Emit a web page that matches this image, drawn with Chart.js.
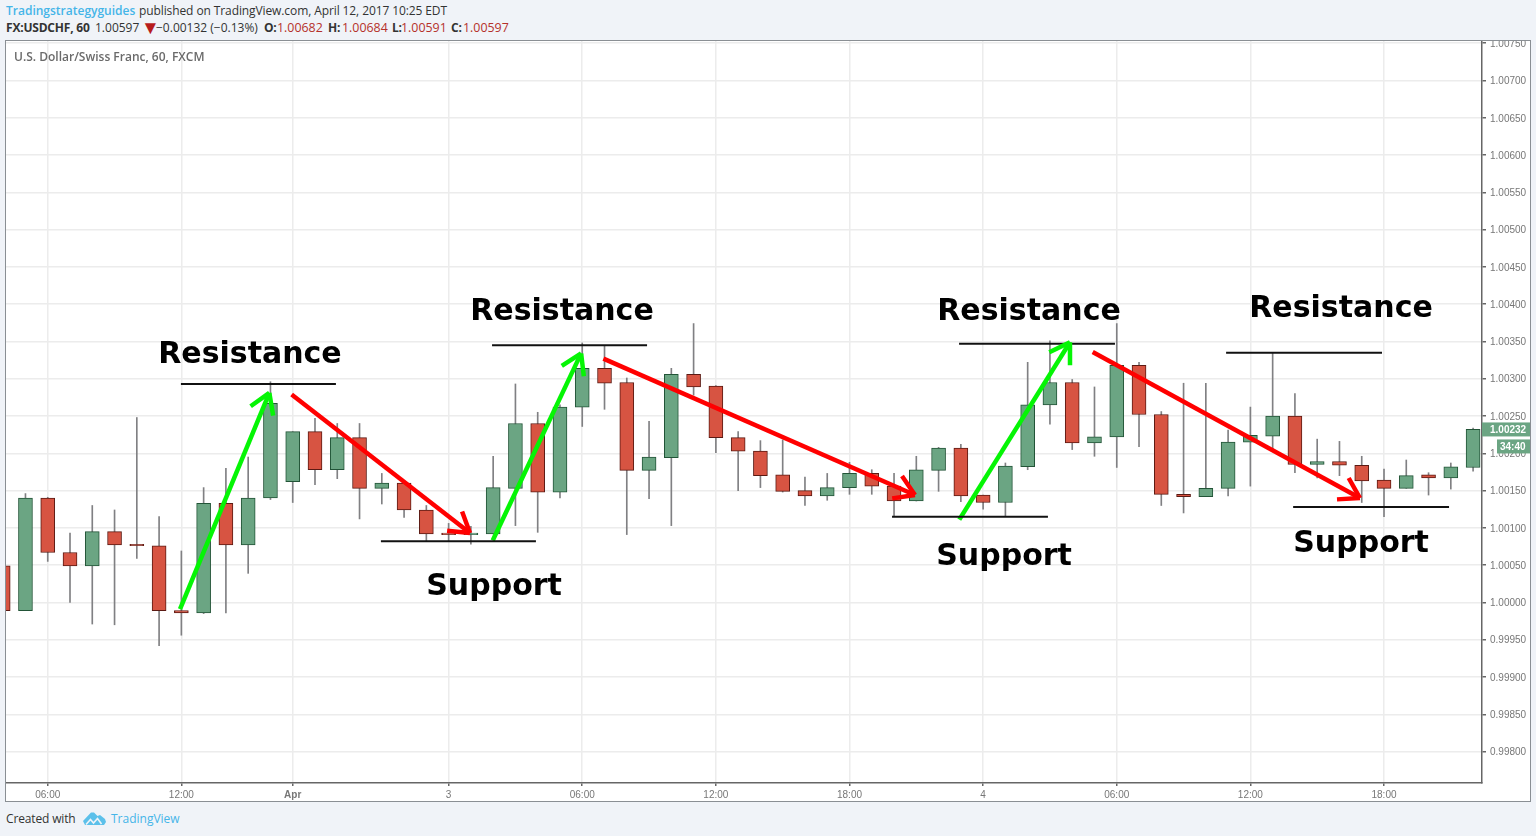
<!DOCTYPE html>
<html>
<head>
<meta charset="utf-8">
<title>USDCHF 60</title>
<script src="https://cdn.jsdelivr.net/npm/chart.js@4"></script>
<style>
    html, body { margin: 0; padding: 0; width: 1536px; height: 836px; overflow: hidden; background: #f0f3f8; }
    body { font-family: "Open Sans", sans-serif; color: #333; position: relative; }
    .linha { position: absolute; left: 6px; white-space: nowrap; font-size: 12px; line-height: 16px; }
    .linha span { position: absolute; top: 0; }
    #linha1 { top: 3px; letter-spacing: -0.1px; }
    #linha2 { top: 20px; left: 0; }
    .azul { color: #45b5e8; font-weight: 600; letter-spacing: 0; }
    .vermelho { color: #b5312a; font-size: 12.4px; }
    .forte { font-weight: 700; letter-spacing: -0.2px; }
    #quadro { position: absolute; left: 6px; top: 41px; width: 1524px; height: 760px; background: #fff; outline: 1px solid #8a8f94; }
    #quadro canvas { display: block; }
    #simbolo { position: absolute; left: 8px; top: 8px; font-size: 12px; font-weight: 600; line-height: 16px; color: #6a6a6a; }
    #rodape { position: absolute; left: 6px; top: 811px; font-size: 12px; line-height: 16px; white-space: nowrap; letter-spacing: -0.15px; }
    #logo { position: absolute; left: 83px; top: 811px; }
    #marca { position: absolute; left: 111px; top: 811px; font-size: 12px; line-height: 16px; color: #45b5e8; }
</style>
</head>
<body>
<div class="linha" id="linha1"><span class="azul" style="left:0">Tradingstrategyguides</span><span style="left:133px">published on TradingView.com, April 12, 2017 10:25 EDT</span></div>
<div class="linha" id="linha2">
    <span class="forte" style="left:6px">FX:USDCHF, 60</span>
    <span style="left:95px">1.00597</span>
    <span style="left:141px;top:-2px;color:#b71c1c;font-size:19px;line-height:19px">▼</span>
    <span style="left:156px">−0.00132 (−0.13%)</span>
    <span class="forte" style="left:264px">O:</span><span class="vermelho" style="left:277px">1.00682</span>
    <span class="forte" style="left:328px">H:</span><span class="vermelho" style="left:342px">1.00684</span>
    <span class="forte" style="left:392px">L:</span><span class="vermelho" style="left:401px">1.00591</span>
    <span class="forte" style="left:451px">C:</span><span class="vermelho" style="left:463px">1.00597</span>
</div>
<div id="quadro">
    <canvas id="grafico" width="1524" height="760"></canvas>
    <div id="simbolo">U.S. Dollar/Swiss Franc, 60, FXCM</div>
</div>
<div id="rodape">Created with</div>
<svg id="logo" width="23" height="15" viewBox="0 0 23 15">
    <path d="M0 10 L8 1.5 L11 1.5 L14.5 5 L17 4 L22 8 L23 11 L21 14 L2 14 Z" fill="#5cc0ea"/>
    <path d="M3 13.5 L7.5 8.5 L10.5 12 L14.5 7.5 L18.5 13" fill="none" stroke="#f0f3f8" stroke-width="1.6"/>
</svg>
<div id="marca">TradingView</div>

<script>
// Candles, one per hour, oldest first
const aberturas = [1.00049, 0.99989, 1.00140, 1.00067, 1.00049, 1.00095, 1.00078, 1.00076, 0.99989, 0.99986,
    1.00133, 1.00077, 1.00140, 1.00162, 1.00229, 1.00178, 1.00221, 1.00153, 1.00160, 1.00124,
    1.00093, 1.00091, 1.00092, 1.00153, 1.00240, 1.00148, 1.00262, 1.00314, 1.00295, 1.00177,
    1.00194, 1.00306, 1.00290, 1.00221, 1.00203, 1.00171, 1.00150, 1.00143, 1.00154, 1.00173,
    1.00156, 1.00136, 1.00177, 1.00207, 1.00144, 1.00134, 1.00182, 1.00265, 1.00295, 1.00214,
    1.00222, 1.00318, 1.00252, 1.00145, 1.00142, 1.00153, 1.00215, 1.00223, 1.00250, 1.00185,
    1.00189, 1.00184, 1.00164, 1.00153, 1.00171, 1.00167, 1.00181];
const maximas = [1.00049, 1.00146, 1.00141, 1.00093, 1.00130, 1.00124, 1.00248, 1.00115, 1.00069, 1.00154,
    1.00180, 1.00195, 1.00296, 1.00229, 1.00247, 1.00240, 1.00240, 1.00173, 1.00160, 1.00130,
    1.00106, 1.00102, 1.00196, 1.00293, 1.00255, 1.00265, 1.00348, 1.00344, 1.00301, 1.00243,
    1.00314, 1.00374, 1.00291, 1.00229, 1.00217, 1.00218, 1.00168, 1.00173, 1.00188, 1.00178,
    1.00173, 1.00196, 1.00208, 1.00212, 1.00144, 1.00187, 1.00322, 1.00351, 1.00299, 1.00289,
    1.00374, 1.00322, 1.00256, 1.00294, 1.00294, 1.00231, 1.00262, 1.00334, 1.00280, 1.00219,
    1.00216, 1.00196, 1.00179, 1.00191, 1.00174, 1.00187, 1.00234];
const minimas = [0.99989, 0.99989, 1.00055, 1.00000, 0.99971, 0.99970, 1.00059, 0.99942, 0.99956, 0.99985,
    0.99986, 1.00039, 1.00138, 1.00134, 1.00158, 1.00166, 1.00112, 1.00132, 1.00114, 1.00082,
    1.00082, 1.00078, 1.00092, 1.00103, 1.00094, 1.00140, 1.00236, 1.00259, 1.00091, 1.00139,
    1.00103, 1.00278, 1.00201, 1.00150, 1.00154, 1.00148, 1.00130, 1.00137, 1.00145, 1.00145,
    1.00115, 1.00136, 1.00149, 1.00135, 1.00125, 1.00115, 1.00178, 1.00239, 1.00205, 1.00196,
    1.00181, 1.00209, 1.00130, 1.00120, 1.00142, 1.00143, 1.00156, 1.00204, 1.00174, 1.00167,
    1.00170, 1.00134, 1.00115, 1.00153, 1.00144, 1.00152, 1.00176];
const fechamentos = [0.99989, 1.00140, 1.00067, 1.00049, 1.00095, 1.00077, 1.00076, 0.99989, 0.99986, 1.00133,
    1.00077, 1.00140, 1.00267, 1.00229, 1.00178, 1.00221, 1.00153, 1.00160, 1.00124, 1.00092,
    1.00091, 1.00093, 1.00154, 1.00240, 1.00148, 1.00262, 1.00314, 1.00294, 1.00177, 1.00195,
    1.00306, 1.00289, 1.00221, 1.00203, 1.00170, 1.00149, 1.00143, 1.00154, 1.00173, 1.00156,
    1.00136, 1.00178, 1.00207, 1.00143, 1.00134, 1.00183, 1.00265, 1.00295, 1.00214, 1.00222,
    1.00318, 1.00252, 1.00145, 1.00142, 1.00153, 1.00215, 1.00224, 1.00250, 1.00185, 1.00189,
    1.00184, 1.00163, 1.00153, 1.00170, 1.00167, 1.00182, 1.00232];

// Axis ticks
const ticksPreco = [0.998, 0.9985, 0.999, 0.9995, 1.0, 1.0005, 1.001, 1.0015, 1.002, 1.0025,
    1.003, 1.0035, 1.004, 1.0045, 1.005, 1.0055, 1.006, 1.0065, 1.007, 1.0075];
const ticksHora = [2, 8, 13, 20, 26, 32, 38, 44, 50, 56, 62];
const rotulosHora = ['06:00', '12:00', 'Apr', '3', '06:00', '12:00', '18:00', '4', '06:00', '12:00', '18:00'];
const contagem = '34:40';

// Hand drawn levels: [first candle, last candle, price]
const niveis = [[7.98, 14.94, 1.00293], [16.96, 23.92, 1.00082], [21.95, 28.91, 1.00345], [39.91, 46.91, 1.00115],
    [42.92, 49.92, 1.00347], [54.91, 61.91, 1.00335], [57.92, 64.92, 1.00128]];
// Hand drawn arrows: [candle, price, candle, price]
const setasVerdes = [[7.94, 0.99991, 11.95, 1.00281], [21.98, 1.00083, 25.95, 1.00334], [42.93, 1.00111, 47.9, 1.00349]];
const setasVermelhas = [[12.95, 1.00279, 20.96, 1.00093], [26.95, 1.00327, 40.94, 1.00144], [48.92, 1.00336, 60.92, 1.00140]];
// Level names: [text, candle, price]
const rotulos = [['Resistance', 11.08, 1.00332], ['Resistance', 25.09, 1.00389], ['Resistance', 46.06, 1.00389],
    ['Resistance', 60.07, 1.00393], ['Support', 22.04, 1.00021], ['Support', 44.94, 1.00060], ['Support', 60.97, 1.00078]];

const VERDE = '#6ba583';
const VERMELHO = '#d75442';
const COR_SETA_VERDE = '#05f505';
const indices = aberturas.map((_, i) => i);
const sobe = i => fechamentos[i] >= aberturas[i];

function segmento(x0, y0, x1, y1, cor, largura) {
    return {
        type: 'line',
        data: [{ x: x0, y: y0 }, { x: x1, y: y1 }],
        borderColor: cor,
        borderWidth: largura,
        pointRadius: 0,
        order: 0,
    };
}

// Arrow heads and level names go on top of the line datasets
const anotacoes = {
    id: 'anotacoes',
    afterDatasetsDraw(chart) {
        const { ctx, scales: { x, y } } = chart;
        const ponta = (s, cor) => {
            const px = x.getPixelForValue(s[2]), py = y.getPixelForValue(s[3]);
            const ang = Math.atan2(py - y.getPixelForValue(s[1]), px - x.getPixelForValue(s[0]));
            ctx.strokeStyle = cor;
            ctx.lineWidth = 4.5;
            ctx.beginPath();
            [-1, 1].forEach(lado => {
                const a = ang + Math.PI + lado * 32 * Math.PI / 180;
                ctx.moveTo(px, py);
                ctx.lineTo(px + 23 * Math.cos(a), py + 23 * Math.sin(a));
            });
            ctx.stroke();
        };
        ctx.save();
        setasVerdes.forEach(s => ponta(s, COR_SETA_VERDE));
        setasVermelhas.forEach(s => ponta(s, '#ff0000'));
        ctx.fillStyle = '#000';
        ctx.font = 'bold 30px "DejaVu Sans"';
        ctx.textAlign = 'center';
        ctx.textBaseline = 'middle';
        rotulos.forEach(r => ctx.fillText(r[0], x.getPixelForValue(r[1]), y.getPixelForValue(r[2])));
        ctx.restore();
    },
    // Last price and countdown tags sit over the axis labels
    afterDraw(chart) {
        const { ctx, scales: { y } } = chart;
        const ultimo = fechamentos[fechamentos.length - 1];
        const py = y.getPixelForValue(ultimo);
        const esq = y.left, dir = y.right;
        ctx.save();
        ctx.fillStyle = VERDE;
        ctx.fillRect(esq, py - 7, dir - esq, 14);
        ctx.fillRect(esq + 15, py + 10, dir - esq - 15, 14);
        ctx.fillStyle = '#fff';
        ctx.font = 'bold 10px "Liberation Sans"';
        ctx.textBaseline = 'middle';
        ctx.fillText(ultimo.toFixed(5), esq + 8, py + 0.5);
        ctx.fillText(contagem, esq + 18, py + 17.5);
        ctx.restore();
    },
};

new Chart(document.getElementById('grafico'), {
    type: 'bar',
    data: {
        datasets: [
            ...niveis.map(n => segmento(n[0], n[2], n[1], n[2], '#111', 2)),
            ...setasVerdes.map(s => segmento(s[0], s[1], s[2], s[3], COR_SETA_VERDE, 4.5)),
            ...setasVermelhas.map(s => segmento(s[0], s[1], s[2], s[3], '#ff0000', 4.5)),
            {
                // candle bodies
                data: indices.map(i => ({ x: i, y: [aberturas[i], fechamentos[i]] })),
                backgroundColor: indices.map(i => sobe(i) ? VERDE : VERMELHO),
                borderColor: indices.map(i => sobe(i) ? '#225437' : '#5b1a13'),
                borderWidth: 1,
                borderSkipped: false,
                barThickness: 14,
                grouped: false,
                order: 1,
            },
            {
                // wicks
                data: indices.map(i => ({ x: i, y: [minimas[i], maximas[i]] })),
                backgroundColor: '#808083',
                barThickness: 1,
                grouped: false,
                order: 2,
            },
        ],
    },
    options: {
        responsive: false,
        animation: false,
        events: [],
        layout: { padding: 0 },
        plugins: { legend: { display: false }, tooltip: { enabled: false } },
        scales: {
            x: {
                type: 'linear',
                min: 0.126,
                max: 66.4,
                offset: false,
                afterBuildTicks: s => { s.ticks = ticksHora.map(v => ({ value: v })); },
                // no extra room for the outer labels, the plot runs to the frame
                afterFit: s => { s.height = 18; s.paddingLeft = 0; s.paddingRight = 0; },
                grid: { offset: false, color: '#ececec', lineWidth: 1.5, tickColor: '#666', tickLength: 3 },
                border: { color: '#666', width: 1.5 },
                ticks: {
                    autoSkip: false,
                    maxRotation: 0,
                    padding: 3,
                    color: '#777',
                    font: c => ({ family: '"Liberation Sans"', size: 10, weight: rotulosHora[c.index] === 'Apr' ? 'bold' : 'normal' }),
                    callback: (v, i) => rotulosHora[i],
                },
            },
            y: {
                type: 'linear',
                position: 'right',
                min: 0.997578,
                max: 1.00753,
                afterBuildTicks: s => { s.ticks = ticksPreco.map(v => ({ value: v })); },
                afterFit: s => { s.width = 48; s.paddingTop = 0; s.paddingBottom = 0; },
                grid: { color: '#ececec', lineWidth: 1.5, tickColor: '#666', tickLength: 4 },
                border: { color: '#666', width: 1.5 },
                ticks: {
                    autoSkip: false,
                    padding: 4,
                    labelOffset: 1,
                    color: '#777',
                    font: { family: '"Liberation Sans"', size: 10 },
                    callback: v => v.toFixed(5),
                },
            },
        },
    },
    plugins: [anotacoes],
});
</script>
</body>
</html>
